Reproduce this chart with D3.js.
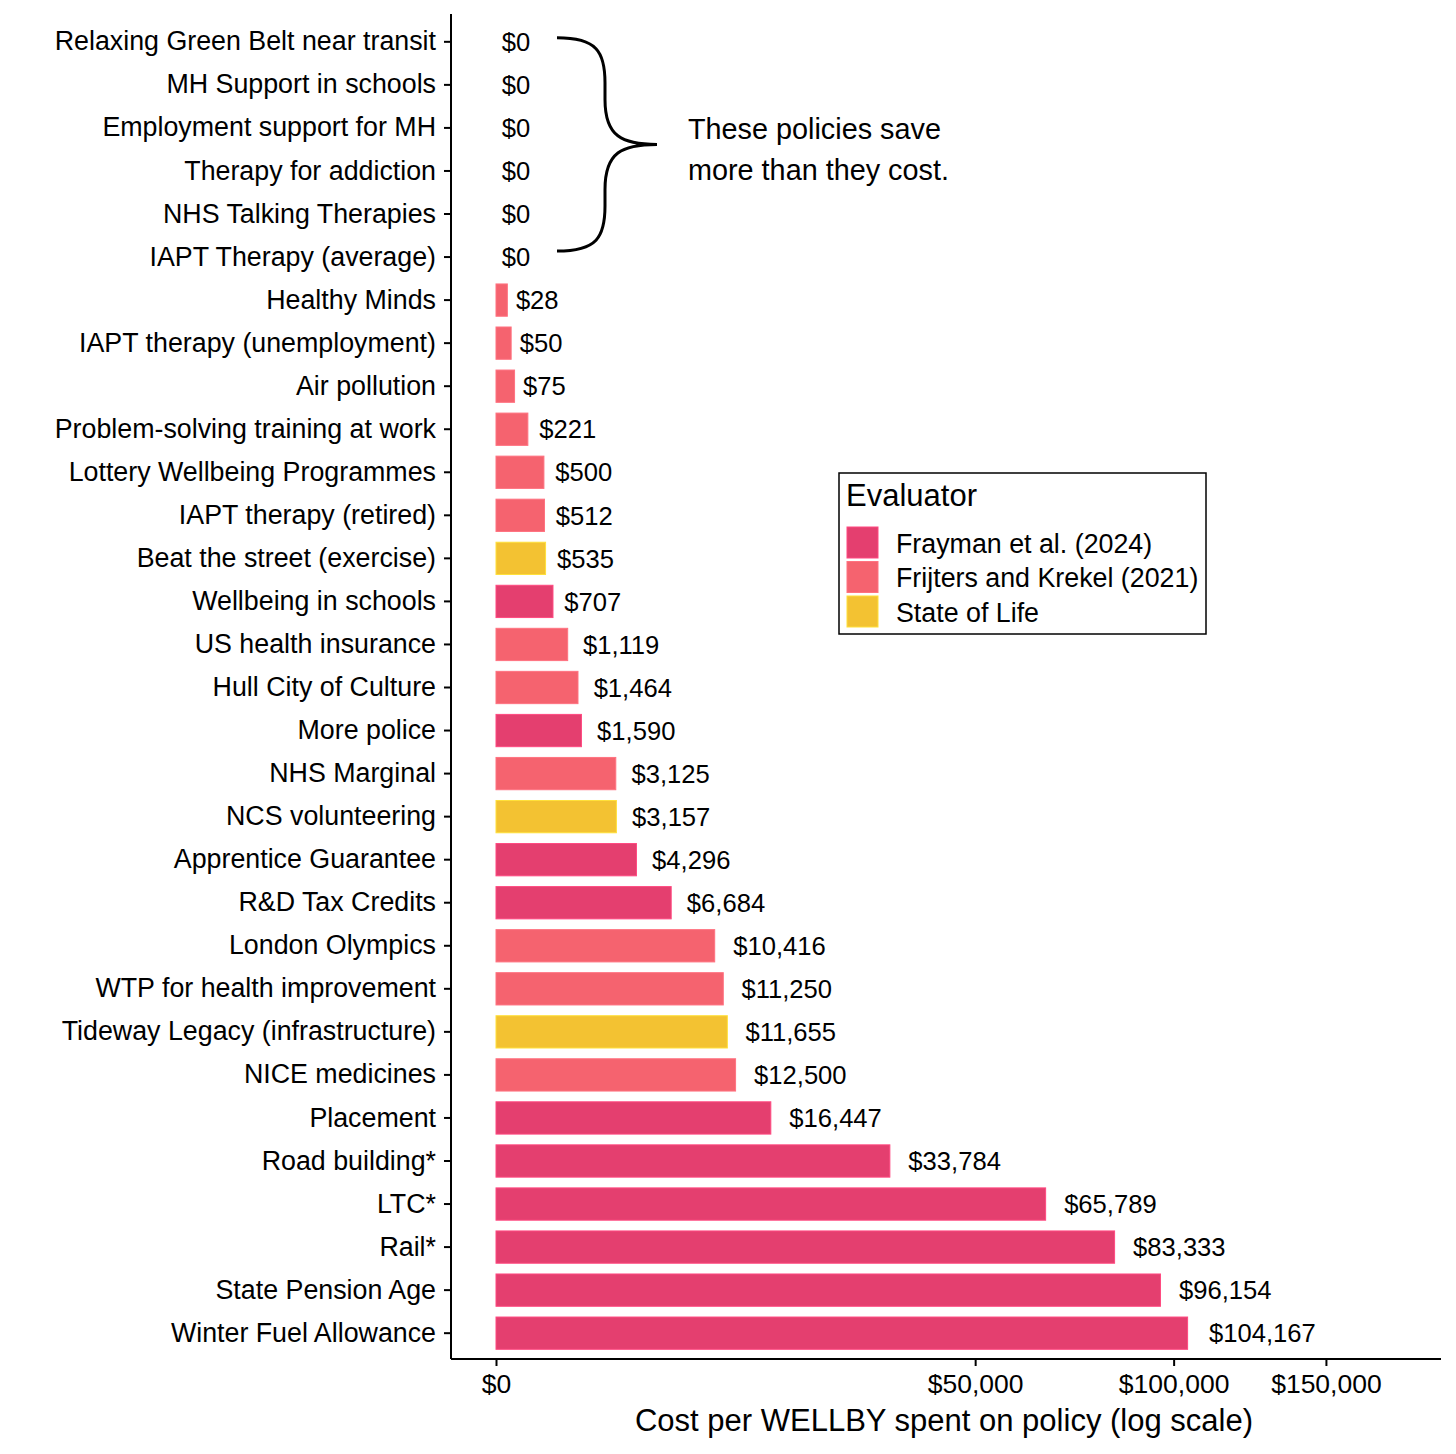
<!DOCTYPE html>
<html>
<head>
<meta charset="utf-8">
<script src="https://cdn.jsdelivr.net/npm/d3@7"></script>
<style>
  body { margin: 0; background: #fff; }
  text { font-family: "Liberation Sans", Arial, sans-serif; fill: #000; }
</style>
</head>
<body>
<div id="chart"></div>
<script>
// Datos (de arriba a abajo)
const policies = [
  "Relaxing Green Belt near transit", "MH Support in schools", "Employment support for MH",
  "Therapy for addiction", "NHS Talking Therapies", "IAPT Therapy (average)", "Healthy Minds",
  "IAPT therapy (unemployment)", "Air pollution", "Problem-solving training at work",
  "Lottery Wellbeing Programmes", "IAPT therapy (retired)", "Beat the street (exercise)",
  "Wellbeing in schools", "US health insurance", "Hull City of Culture", "More police",
  "NHS Marginal", "NCS volunteering", "Apprentice Guarantee", "R&D Tax Credits",
  "London Olympics", "WTP for health improvement", "Tideway Legacy (infrastructure)",
  "NICE medicines", "Placement", "Road building*", "LTC*", "Rail*", "State Pension Age",
  "Winter Fuel Allowance"
];
const costs = [
  0, 0, 0, 0, 0, 0, 28, 50, 75, 221, 500, 512, 535, 707, 1119, 1464, 1590,
  3125, 3157, 4296, 6684, 10416, 11250, 11655, 12500, 16447, 33784, 65789,
  83333, 96154, 104167
];
const evaluators = [
  "Frijters and Krekel (2021)", "Frijters and Krekel (2021)", "Frijters and Krekel (2021)",
  "Frijters and Krekel (2021)", "Frijters and Krekel (2021)", "Frijters and Krekel (2021)",
  "Frijters and Krekel (2021)", "Frijters and Krekel (2021)", "Frijters and Krekel (2021)",
  "Frijters and Krekel (2021)", "Frijters and Krekel (2021)", "Frijters and Krekel (2021)",
  "State of Life", "Frayman et al. (2024)", "Frijters and Krekel (2021)",
  "Frijters and Krekel (2021)", "Frayman et al. (2024)", "Frijters and Krekel (2021)",
  "State of Life", "Frayman et al. (2024)", "Frayman et al. (2024)",
  "Frijters and Krekel (2021)", "Frijters and Krekel (2021)", "State of Life",
  "Frijters and Krekel (2021)", "Frayman et al. (2024)", "Frayman et al. (2024)",
  "Frayman et al. (2024)", "Frayman et al. (2024)", "Frayman et al. (2024)",
  "Frayman et al. (2024)"
];
const evaluatorNames = ["Frayman et al. (2024)", "Frijters and Krekel (2021)", "State of Life"];
const evaluatorColors = ["#E43F6F", "#F5636F", "#F3C232"];
const xTicks = [0, 50000, 100000, 150000];

const data = policies.map((p, i) => ({ policy: p, cost: costs[i], evaluator: evaluators[i] }));

const width = 1456, height = 1454;
const panelLeft = 451, panelRight = 1441, panelTop = 14, panelBottom = 1359;

const svg = d3.select("#chart").append("svg")
  .attr("width", width).attr("height", height);

// Escala raíz cuadrada (aunque el título diga log)
const x = d3.scaleSqrt().domain([0, 176400]).range([496, 1396]);
const y = d3.scaleBand().domain(policies).range([panelTop + 2, panelBottom])
  .paddingInner(0.25).paddingOuter(0.225);
const color = d3.scaleOrdinal().domain(evaluatorNames).range(evaluatorColors);

// Barras
svg.selectAll("rect.bar").data(data).enter().append("rect")
  .attr("class", "bar")
  .attr("x", x(0))
  .attr("y", d => y(d.policy))
  .attr("width", d => x(d.cost) - x(0))
  .attr("height", y.bandwidth())
  .attr("fill", d => color(d.evaluator))
  .attr("stroke", d => d3.color(color(d.evaluator)).brighter(0.4))
  .attr("stroke-width", d => d.cost > 0 ? 1 : 0);

// Etiquetas de valor (hjust = -0.2)
const fmt = d3.format(",");
svg.selectAll("text.val").data(data).enter().append("text")
  .attr("class", "val")
  .attr("y", d => y(d.policy) + y.bandwidth() / 2)
  .attr("dy", "0.36em")
  .style("font-size", "25.6px")
  .text(d => "$" + fmt(d.cost))
  .attr("x", function(d) { return x(d.cost) + 0.2 * this.getComputedTextLength(); });

// Eje Y
const yAxis = svg.append("g").attr("transform", `translate(${panelLeft},0)`)
  .call(d3.axisLeft(y).tickSize(7).tickPadding(8));
yAxis.select(".domain").attr("d", `M0,${panelTop}V${panelBottom}`).attr("stroke-width", 2);
yAxis.selectAll(".tick line").attr("stroke-width", 2);
yAxis.selectAll(".tick text").style("font-size", "26.8px").attr("fill", "#000");

// Eje X
const xAxis = svg.append("g").attr("transform", `translate(0,${panelBottom})`)
  .call(d3.axisBottom(x).tickValues(xTicks).tickFormat(d => "$" + fmt(d)).tickSize(7).tickPadding(8));
xAxis.select(".domain").attr("d", `M${panelLeft},0H${panelRight}`).attr("stroke-width", 2);
xAxis.selectAll(".tick line").attr("stroke-width", 2);
xAxis.selectAll(".tick text").style("font-size", "26.5px").attr("fill", "#000");

svg.append("text")
  .attr("x", (panelLeft + panelRight) / 2 - 2).attr("y", 1431)
  .attr("text-anchor", "middle")
  .style("font-size", "31px")
  .text("Cost per WELLBY spent on policy (log scale)");

// Llave y anotación
const yTop = y(policies[0]) + y.bandwidth() / 2 - 4;
const yBot = y(policies[5]) + y.bandwidth() / 2 - 6;
const yMid = (yTop + yBot) / 2;
const bx = 557, vx = 605, tip = 657;
svg.append("path")
  .attr("d", `M${bx},${yTop} C${vx - 8},${yTop} ${vx},${yTop + 14} ${vx},${yTop + 45}
    L${vx},${yMid - 45} C${vx},${yMid - 8} ${tip - 35},${yMid} ${tip},${yMid}
    C${tip - 35},${yMid} ${vx},${yMid + 8} ${vx},${yMid + 45}
    L${vx},${yBot - 45} C${vx},${yBot - 14} ${vx - 8},${yBot} ${bx},${yBot}`)
  .attr("fill", "none").attr("stroke", "#000").attr("stroke-width", 3);

svg.append("text").attr("x", 688).attr("y", 139).style("font-size", "28.8px")
  .text("These policies save");
svg.append("text").attr("x", 688).attr("y", 180).style("font-size", "28.8px")
  .text("more than they cost.");

// Leyenda
const lg = svg.append("g").attr("transform", "translate(839,473)");
lg.append("rect").attr("width", 367).attr("height", 161)
  .attr("fill", "#fff").attr("stroke", "#000").attr("stroke-width", 1.5);
lg.append("text").attr("x", 7).attr("y", 33).style("font-size", "31px").text("Evaluator");
evaluatorNames.forEach((n, i) => {
  lg.append("rect").attr("x", 8).attr("y", 54 + i * 34.5).attr("width", 31).attr("height", 31)
    .attr("fill", color(n)).attr("stroke", d3.color(color(n)).brighter(0.4));
  lg.append("text").attr("x", 57).attr("y", 70 + i * 34.5).attr("dy", "0.36em")
    .style("font-size", "26.8px").text(n);
});
</script>
</body>
</html>
